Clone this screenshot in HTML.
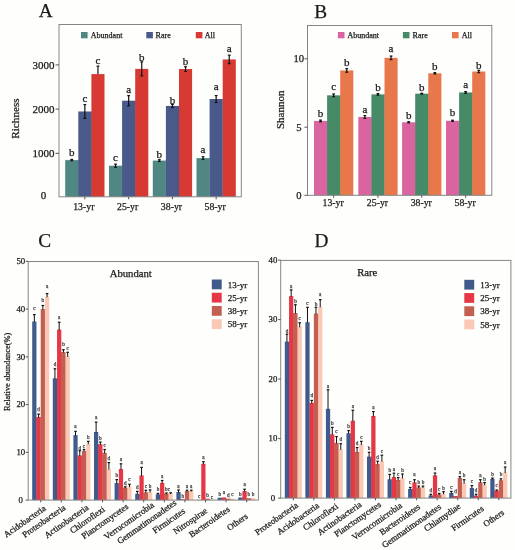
<!DOCTYPE html><html><head><meta charset="utf-8"><style>html,body{margin:0;padding:0;background:#fefefd;}svg{display:block;will-change:transform;}text{font-family:"Liberation Serif", serif;stroke-width:0.25px;}</style></head><body>
<svg width="515" height="550" viewBox="0 0 515 550">
<rect x="0" y="0" width="515" height="550" fill="#fefefd"/>
<rect x="65.2" y="160.11" width="13.1" height="36.69" fill="#508782"/>
<rect x="78.2" y="160.11" width="0.8" height="36.69" fill="#508782"/>
<rect x="78.3" y="111.49" width="13.1" height="85.31" fill="#48598a"/>
<rect x="91.3" y="111.49" width="0.8" height="85.31" fill="#48598a"/>
<rect x="91.4" y="74.09" width="13.1" height="122.71" fill="#d63a33"/>
<rect x="109" y="165.72" width="13.1" height="31.08" fill="#508782"/>
<rect x="122" y="165.72" width="0.8" height="31.08" fill="#508782"/>
<rect x="122.1" y="100.7" width="13.1" height="96.1" fill="#48598a"/>
<rect x="135.1" y="100.7" width="0.8" height="96.1" fill="#48598a"/>
<rect x="135.2" y="68.88" width="13.1" height="127.92" fill="#d63a33"/>
<rect x="152.8" y="160.59" width="13.1" height="36.21" fill="#508782"/>
<rect x="165.8" y="160.59" width="0.8" height="36.21" fill="#508782"/>
<rect x="165.9" y="105.92" width="13.1" height="90.88" fill="#48598a"/>
<rect x="178.9" y="105.92" width="0.8" height="90.88" fill="#48598a"/>
<rect x="179" y="69.01" width="13.1" height="127.79" fill="#d63a33"/>
<rect x="196.5" y="158.12" width="13.1" height="38.68" fill="#508782"/>
<rect x="209.5" y="158.12" width="0.8" height="38.68" fill="#508782"/>
<rect x="209.6" y="99.02" width="13.1" height="97.78" fill="#48598a"/>
<rect x="222.6" y="99.02" width="0.8" height="97.78" fill="#48598a"/>
<rect x="222.7" y="59.42" width="13.1" height="137.38" fill="#d63a33"/>
<line x1="71.75" y1="159.44" x2="71.75" y2="160.77" stroke="#111" stroke-width="1.2"/>
<line x1="70.35" y1="160.77" x2="73.15" y2="160.77" stroke="#111" stroke-width="1.2"/>
<line x1="70.35" y1="159.44" x2="73.15" y2="159.44" stroke="#111" stroke-width="1.2"/>
<text x="71.75" y="156.4" font-size="11" text-anchor="middle" fill="#1a1a1a" stroke="#1a1a1a">b</text>
<line x1="84.85" y1="104.64" x2="84.85" y2="118.34" stroke="#111" stroke-width="1.2"/>
<line x1="83.45" y1="118.34" x2="86.25" y2="118.34" stroke="#111" stroke-width="1.2"/>
<line x1="83.45" y1="104.64" x2="86.25" y2="104.64" stroke="#111" stroke-width="1.2"/>
<text x="84.85" y="102.2" font-size="11" text-anchor="middle" fill="#1a1a1a" stroke="#1a1a1a">c</text>
<line x1="97.95" y1="66.14" x2="97.95" y2="74.09" stroke="#111" stroke-width="1.2"/>
<line x1="96.55" y1="66.14" x2="99.35" y2="66.14" stroke="#111" stroke-width="1.2"/>
<text x="97.95" y="63.8" font-size="11" text-anchor="middle" fill="#1a1a1a" stroke="#1a1a1a">c</text>
<line x1="115.55" y1="164.17" x2="115.55" y2="167.27" stroke="#111" stroke-width="1.2"/>
<line x1="114.15" y1="167.27" x2="116.95" y2="167.27" stroke="#111" stroke-width="1.2"/>
<line x1="114.15" y1="164.17" x2="116.95" y2="164.17" stroke="#111" stroke-width="1.2"/>
<text x="115.55" y="160.9" font-size="11" text-anchor="middle" fill="#1a1a1a" stroke="#1a1a1a">c</text>
<line x1="128.65" y1="95.62" x2="128.65" y2="105.78" stroke="#111" stroke-width="1.2"/>
<line x1="127.25" y1="105.78" x2="130.05" y2="105.78" stroke="#111" stroke-width="1.2"/>
<line x1="127.25" y1="95.62" x2="130.05" y2="95.62" stroke="#111" stroke-width="1.2"/>
<text x="128.65" y="93" font-size="11" text-anchor="middle" fill="#1a1a1a" stroke="#1a1a1a">a</text>
<line x1="141.75" y1="61.89" x2="141.75" y2="75.86" stroke="#111" stroke-width="1.2"/>
<line x1="140.35" y1="75.86" x2="143.15" y2="75.86" stroke="#111" stroke-width="1.2"/>
<line x1="140.35" y1="61.89" x2="143.15" y2="61.89" stroke="#111" stroke-width="1.2"/>
<text x="141.75" y="60.6" font-size="11" text-anchor="middle" fill="#1a1a1a" stroke="#1a1a1a">b</text>
<line x1="159.35" y1="159.71" x2="159.35" y2="161.48" stroke="#111" stroke-width="1.2"/>
<line x1="157.95" y1="161.48" x2="160.75" y2="161.48" stroke="#111" stroke-width="1.2"/>
<line x1="157.95" y1="159.71" x2="160.75" y2="159.71" stroke="#111" stroke-width="1.2"/>
<text x="159.35" y="157.6" font-size="11" text-anchor="middle" fill="#1a1a1a" stroke="#1a1a1a">b</text>
<line x1="172.45" y1="104.37" x2="172.45" y2="107.46" stroke="#111" stroke-width="1.2"/>
<line x1="171.05" y1="107.46" x2="173.85" y2="107.46" stroke="#111" stroke-width="1.2"/>
<line x1="171.05" y1="104.37" x2="173.85" y2="104.37" stroke="#111" stroke-width="1.2"/>
<text x="172.45" y="103.6" font-size="11" text-anchor="middle" fill="#1a1a1a" stroke="#1a1a1a">b</text>
<line x1="185.55" y1="66.71" x2="185.55" y2="71.31" stroke="#111" stroke-width="1.2"/>
<line x1="184.15" y1="71.31" x2="186.95" y2="71.31" stroke="#111" stroke-width="1.2"/>
<line x1="184.15" y1="66.71" x2="186.95" y2="66.71" stroke="#111" stroke-width="1.2"/>
<text x="185.55" y="64.8" font-size="11" text-anchor="middle" fill="#1a1a1a" stroke="#1a1a1a">b</text>
<line x1="203.05" y1="156.79" x2="203.05" y2="159.44" stroke="#111" stroke-width="1.2"/>
<line x1="201.65" y1="159.44" x2="204.45" y2="159.44" stroke="#111" stroke-width="1.2"/>
<line x1="201.65" y1="156.79" x2="204.45" y2="156.79" stroke="#111" stroke-width="1.2"/>
<text x="203.05" y="153.1" font-size="11" text-anchor="middle" fill="#1a1a1a" stroke="#1a1a1a">a</text>
<line x1="216.15" y1="95.57" x2="216.15" y2="102.47" stroke="#111" stroke-width="1.2"/>
<line x1="214.75" y1="102.47" x2="217.55" y2="102.47" stroke="#111" stroke-width="1.2"/>
<line x1="214.75" y1="95.57" x2="217.55" y2="95.57" stroke="#111" stroke-width="1.2"/>
<text x="216.15" y="90.4" font-size="11" text-anchor="middle" fill="#1a1a1a" stroke="#1a1a1a">a</text>
<line x1="229.25" y1="55.18" x2="229.25" y2="63.66" stroke="#111" stroke-width="1.2"/>
<line x1="227.85" y1="63.66" x2="230.65" y2="63.66" stroke="#111" stroke-width="1.2"/>
<line x1="227.85" y1="55.18" x2="230.65" y2="55.18" stroke="#111" stroke-width="1.2"/>
<text x="229.25" y="52" font-size="11" text-anchor="middle" fill="#1a1a1a" stroke="#1a1a1a">a</text>
<rect x="59" y="24.5" width="182.3" height="172.3" fill="none" stroke="#858585" stroke-width="1"/>
<text x="43.6" y="198.6" font-size="11" text-anchor="middle" fill="#1a1a1a" stroke="#1a1a1a">0</text>
<line x1="55.6" y1="153.3" x2="59" y2="153.3" stroke="#555555" stroke-width="1"/>
<text x="43.6" y="157.1" font-size="11" text-anchor="middle" fill="#1a1a1a" stroke="#1a1a1a">1000</text>
<line x1="55.6" y1="109.1" x2="59" y2="109.1" stroke="#555555" stroke-width="1"/>
<text x="43.6" y="112.9" font-size="11" text-anchor="middle" fill="#1a1a1a" stroke="#1a1a1a">2000</text>
<line x1="55.6" y1="64.9" x2="59" y2="64.9" stroke="#555555" stroke-width="1"/>
<text x="43.6" y="68.7" font-size="11" text-anchor="middle" fill="#1a1a1a" stroke="#1a1a1a">3000</text>
<line x1="84.85" y1="196.8" x2="84.85" y2="199.3" stroke="#555555" stroke-width="1"/>
<text x="83.85" y="210.2" font-size="9.8" text-anchor="middle" fill="#1a1a1a" stroke="#1a1a1a">13-yr</text>
<line x1="128.65" y1="196.8" x2="128.65" y2="199.3" stroke="#555555" stroke-width="1"/>
<text x="127.65" y="210.2" font-size="9.8" text-anchor="middle" fill="#1a1a1a" stroke="#1a1a1a">25-yr</text>
<line x1="172.45" y1="196.8" x2="172.45" y2="199.3" stroke="#555555" stroke-width="1"/>
<text x="171.45" y="210.2" font-size="9.8" text-anchor="middle" fill="#1a1a1a" stroke="#1a1a1a">38-yr</text>
<line x1="216.15" y1="196.8" x2="216.15" y2="199.3" stroke="#555555" stroke-width="1"/>
<text x="215.15" y="210.2" font-size="9.8" text-anchor="middle" fill="#1a1a1a" stroke="#1a1a1a">58-yr</text>
<rect x="81" y="32" width="6.6" height="6.3" fill="#508782"/>
<text x="90.8" y="38" font-size="8" text-anchor="start" fill="#1a1a1a" stroke="#1a1a1a">Abundant</text>
<rect x="146.3" y="32" width="6.6" height="6.3" fill="#48598a"/>
<text x="155.6" y="38" font-size="8" text-anchor="start" fill="#1a1a1a" stroke="#1a1a1a">Rare</text>
<rect x="195.8" y="32" width="6.6" height="6.3" fill="#d63a33"/>
<text x="204.8" y="38" font-size="8" text-anchor="start" fill="#1a1a1a" stroke="#1a1a1a">All</text>
<text x="0" y="0" font-size="11.2" text-anchor="middle" fill="#1a1a1a" stroke="#1a1a1a" transform="translate(19.3,118.5) rotate(-90)">Richness</text>
<text x="45.6" y="17.2" font-size="19.3" text-anchor="middle" fill="#1a1a1a" stroke="#1a1a1a">A</text>
<rect x="314" y="120.91" width="13.1" height="74.39" fill="#da64a0"/>
<rect x="327" y="120.91" width="0.8" height="74.39" fill="#da64a0"/>
<rect x="327.1" y="95.33" width="13.1" height="99.97" fill="#468a68"/>
<rect x="340.1" y="95.33" width="0.8" height="99.97" fill="#468a68"/>
<rect x="340.2" y="70.43" width="13.1" height="124.87" fill="#e8784b"/>
<rect x="358.3" y="116.94" width="13.1" height="78.36" fill="#da64a0"/>
<rect x="371.3" y="116.94" width="0.8" height="78.36" fill="#da64a0"/>
<rect x="371.4" y="94.37" width="13.1" height="100.93" fill="#468a68"/>
<rect x="384.4" y="94.37" width="0.8" height="100.93" fill="#468a68"/>
<rect x="384.5" y="57.84" width="13.1" height="137.46" fill="#e8784b"/>
<rect x="402.1" y="122.28" width="13.1" height="73.02" fill="#da64a0"/>
<rect x="415.1" y="122.28" width="0.8" height="73.02" fill="#da64a0"/>
<rect x="415.2" y="93.68" width="13.1" height="101.62" fill="#468a68"/>
<rect x="428.2" y="93.68" width="0.8" height="101.62" fill="#468a68"/>
<rect x="428.3" y="73.3" width="13.1" height="122" fill="#e8784b"/>
<rect x="446" y="120.77" width="13.1" height="74.53" fill="#da64a0"/>
<rect x="459" y="120.77" width="0.8" height="74.53" fill="#da64a0"/>
<rect x="459.1" y="92.45" width="13.1" height="102.85" fill="#468a68"/>
<rect x="472.1" y="92.45" width="0.8" height="102.85" fill="#468a68"/>
<rect x="472.2" y="71.52" width="13.1" height="123.78" fill="#e8784b"/>
<line x1="320.55" y1="120.09" x2="320.55" y2="121.73" stroke="#111" stroke-width="1.2"/>
<line x1="319.15" y1="121.73" x2="321.95" y2="121.73" stroke="#111" stroke-width="1.2"/>
<line x1="319.15" y1="120.09" x2="321.95" y2="120.09" stroke="#111" stroke-width="1.2"/>
<text x="320.55" y="117.4" font-size="11" text-anchor="middle" fill="#1a1a1a" stroke="#1a1a1a">b</text>
<line x1="333.65" y1="93.96" x2="333.65" y2="96.69" stroke="#111" stroke-width="1.2"/>
<line x1="332.25" y1="96.69" x2="335.05" y2="96.69" stroke="#111" stroke-width="1.2"/>
<line x1="332.25" y1="93.96" x2="335.05" y2="93.96" stroke="#111" stroke-width="1.2"/>
<text x="333.65" y="90" font-size="11" text-anchor="middle" fill="#1a1a1a" stroke="#1a1a1a">c</text>
<line x1="346.75" y1="68.65" x2="346.75" y2="72.21" stroke="#111" stroke-width="1.2"/>
<line x1="345.35" y1="72.21" x2="348.15" y2="72.21" stroke="#111" stroke-width="1.2"/>
<line x1="345.35" y1="68.65" x2="348.15" y2="68.65" stroke="#111" stroke-width="1.2"/>
<text x="346.75" y="65.9" font-size="11" text-anchor="middle" fill="#1a1a1a" stroke="#1a1a1a">b</text>
<line x1="364.85" y1="115.57" x2="364.85" y2="118.31" stroke="#111" stroke-width="1.2"/>
<line x1="363.45" y1="118.31" x2="366.25" y2="118.31" stroke="#111" stroke-width="1.2"/>
<line x1="363.45" y1="115.57" x2="366.25" y2="115.57" stroke="#111" stroke-width="1.2"/>
<text x="364.85" y="112.7" font-size="11" text-anchor="middle" fill="#1a1a1a" stroke="#1a1a1a">a</text>
<line x1="377.95" y1="93.55" x2="377.95" y2="95.19" stroke="#111" stroke-width="1.2"/>
<line x1="376.55" y1="95.19" x2="379.35" y2="95.19" stroke="#111" stroke-width="1.2"/>
<line x1="376.55" y1="93.55" x2="379.35" y2="93.55" stroke="#111" stroke-width="1.2"/>
<text x="377.95" y="90.8" font-size="11" text-anchor="middle" fill="#1a1a1a" stroke="#1a1a1a">b</text>
<line x1="391.05" y1="56.06" x2="391.05" y2="59.62" stroke="#111" stroke-width="1.2"/>
<line x1="389.65" y1="59.62" x2="392.45" y2="59.62" stroke="#111" stroke-width="1.2"/>
<line x1="389.65" y1="56.06" x2="392.45" y2="56.06" stroke="#111" stroke-width="1.2"/>
<text x="391.05" y="51.7" font-size="11" text-anchor="middle" fill="#1a1a1a" stroke="#1a1a1a">a</text>
<line x1="408.65" y1="121.73" x2="408.65" y2="122.82" stroke="#111" stroke-width="1.2"/>
<line x1="407.25" y1="122.82" x2="410.05" y2="122.82" stroke="#111" stroke-width="1.2"/>
<line x1="407.25" y1="121.73" x2="410.05" y2="121.73" stroke="#111" stroke-width="1.2"/>
<text x="408.65" y="119.4" font-size="11" text-anchor="middle" fill="#1a1a1a" stroke="#1a1a1a">b</text>
<line x1="421.75" y1="93.27" x2="421.75" y2="94.09" stroke="#111" stroke-width="1.2"/>
<line x1="420.35" y1="94.09" x2="423.15" y2="94.09" stroke="#111" stroke-width="1.2"/>
<line x1="420.35" y1="93.27" x2="423.15" y2="93.27" stroke="#111" stroke-width="1.2"/>
<text x="421.75" y="90.5" font-size="11" text-anchor="middle" fill="#1a1a1a" stroke="#1a1a1a">b</text>
<line x1="434.85" y1="72.62" x2="434.85" y2="73.98" stroke="#111" stroke-width="1.2"/>
<line x1="433.45" y1="73.98" x2="436.25" y2="73.98" stroke="#111" stroke-width="1.2"/>
<line x1="433.45" y1="72.62" x2="436.25" y2="72.62" stroke="#111" stroke-width="1.2"/>
<text x="434.85" y="70.1" font-size="11" text-anchor="middle" fill="#1a1a1a" stroke="#1a1a1a">b</text>
<line x1="452.55" y1="120.22" x2="452.55" y2="121.32" stroke="#111" stroke-width="1.2"/>
<line x1="451.15" y1="121.32" x2="453.95" y2="121.32" stroke="#111" stroke-width="1.2"/>
<line x1="451.15" y1="120.22" x2="453.95" y2="120.22" stroke="#111" stroke-width="1.2"/>
<text x="452.55" y="116" font-size="11" text-anchor="middle" fill="#1a1a1a" stroke="#1a1a1a">b</text>
<line x1="465.65" y1="91.63" x2="465.65" y2="93.27" stroke="#111" stroke-width="1.2"/>
<line x1="464.25" y1="93.27" x2="467.05" y2="93.27" stroke="#111" stroke-width="1.2"/>
<line x1="464.25" y1="91.63" x2="467.05" y2="91.63" stroke="#111" stroke-width="1.2"/>
<text x="465.65" y="88.3" font-size="11" text-anchor="middle" fill="#1a1a1a" stroke="#1a1a1a">a</text>
<line x1="478.75" y1="70.43" x2="478.75" y2="72.62" stroke="#111" stroke-width="1.2"/>
<line x1="477.35" y1="72.62" x2="480.15" y2="72.62" stroke="#111" stroke-width="1.2"/>
<line x1="477.35" y1="70.43" x2="480.15" y2="70.43" stroke="#111" stroke-width="1.2"/>
<text x="478.75" y="68.7" font-size="11" text-anchor="middle" fill="#1a1a1a" stroke="#1a1a1a">b</text>
<rect x="307.5" y="25.5" width="184.3" height="169.8" fill="none" stroke="#858585" stroke-width="1"/>
<line x1="304.5" y1="195.3" x2="307.5" y2="195.3" stroke="#555555" stroke-width="1"/>
<text x="298.8" y="198.6" font-size="10.6" text-anchor="middle" fill="#1a1a1a" stroke="#1a1a1a">0</text>
<line x1="304.5" y1="127.2" x2="307.5" y2="127.2" stroke="#555555" stroke-width="1"/>
<text x="298.8" y="130.5" font-size="10.6" text-anchor="middle" fill="#1a1a1a" stroke="#1a1a1a">5</text>
<line x1="304.5" y1="58.8" x2="307.5" y2="58.8" stroke="#555555" stroke-width="1"/>
<text x="298.8" y="62.1" font-size="10.6" text-anchor="middle" fill="#1a1a1a" stroke="#1a1a1a">10</text>
<line x1="333.65" y1="195.3" x2="333.65" y2="197.8" stroke="#555555" stroke-width="1"/>
<text x="333.15" y="205.6" font-size="9.8" text-anchor="middle" fill="#1a1a1a" stroke="#1a1a1a">13-yr</text>
<line x1="377.95" y1="195.3" x2="377.95" y2="197.8" stroke="#555555" stroke-width="1"/>
<text x="377.45" y="205.6" font-size="9.8" text-anchor="middle" fill="#1a1a1a" stroke="#1a1a1a">25-yr</text>
<line x1="421.75" y1="195.3" x2="421.75" y2="197.8" stroke="#555555" stroke-width="1"/>
<text x="421.25" y="205.6" font-size="9.8" text-anchor="middle" fill="#1a1a1a" stroke="#1a1a1a">38-yr</text>
<line x1="465.65" y1="195.3" x2="465.65" y2="197.8" stroke="#555555" stroke-width="1"/>
<text x="465.15" y="205.6" font-size="9.8" text-anchor="middle" fill="#1a1a1a" stroke="#1a1a1a">58-yr</text>
<rect x="337.9" y="32" width="6.6" height="6.3" fill="#da64a0"/>
<text x="347.5" y="38" font-size="8" text-anchor="start" fill="#1a1a1a" stroke="#1a1a1a">Abundant</text>
<rect x="402.9" y="32" width="6.6" height="6.3" fill="#468a68"/>
<text x="412.6" y="38" font-size="8" text-anchor="start" fill="#1a1a1a" stroke="#1a1a1a">Rare</text>
<rect x="452" y="32" width="6.6" height="6.3" fill="#e8784b"/>
<text x="461.7" y="38" font-size="8" text-anchor="start" fill="#1a1a1a" stroke="#1a1a1a">All</text>
<text x="0" y="0" font-size="11" text-anchor="middle" fill="#1a1a1a" stroke="#1a1a1a" transform="translate(283.9,109.8) rotate(-90)">Shannon</text>
<text x="320.8" y="17.5" font-size="19.3" text-anchor="middle" fill="#1a1a1a" stroke="#1a1a1a">B</text>
<rect x="32.2" y="321.51" width="4.25" height="178.59" fill="#415a8c"/>
<rect x="36.35" y="417.02" width="0.8" height="83.08" fill="#415a8c"/>
<rect x="36.45" y="417.02" width="4.25" height="83.08" fill="#e63746"/>
<rect x="40.6" y="417.02" width="0.8" height="83.08" fill="#e63746"/>
<rect x="40.7" y="309.1" width="4.25" height="191" fill="#c35f50"/>
<rect x="44.85" y="309.1" width="0.8" height="191" fill="#c35f50"/>
<rect x="44.95" y="296.69" width="4.25" height="203.42" fill="#fac8b4"/>
<rect x="52.8" y="378.34" width="4.25" height="121.76" fill="#415a8c"/>
<rect x="56.95" y="378.34" width="0.8" height="121.76" fill="#415a8c"/>
<rect x="57.05" y="329.63" width="4.25" height="170.47" fill="#e63746"/>
<rect x="61.2" y="352.08" width="0.8" height="148.02" fill="#e63746"/>
<rect x="61.3" y="352.08" width="4.25" height="148.02" fill="#c35f50"/>
<rect x="65.45" y="356.37" width="0.8" height="143.73" fill="#c35f50"/>
<rect x="65.55" y="356.37" width="4.25" height="143.73" fill="#fac8b4"/>
<rect x="73.4" y="435.16" width="4.25" height="64.94" fill="#415a8c"/>
<rect x="77.55" y="455.45" width="0.8" height="44.65" fill="#415a8c"/>
<rect x="77.65" y="455.45" width="4.25" height="44.65" fill="#e63746"/>
<rect x="81.8" y="455.45" width="0.8" height="44.65" fill="#e63746"/>
<rect x="81.9" y="450.92" width="4.25" height="49.18" fill="#c35f50"/>
<rect x="86.05" y="450.92" width="0.8" height="49.18" fill="#c35f50"/>
<rect x="86.15" y="443.75" width="4.25" height="56.35" fill="#fac8b4"/>
<rect x="94" y="432.01" width="4.25" height="68.09" fill="#415a8c"/>
<rect x="98.15" y="444.23" width="0.8" height="55.87" fill="#415a8c"/>
<rect x="98.25" y="444.23" width="4.25" height="55.87" fill="#e63746"/>
<rect x="102.4" y="452.83" width="0.8" height="47.27" fill="#e63746"/>
<rect x="102.5" y="452.83" width="4.25" height="47.27" fill="#c35f50"/>
<rect x="106.65" y="469.06" width="0.8" height="31.04" fill="#c35f50"/>
<rect x="106.75" y="469.06" width="4.25" height="31.04" fill="#fac8b4"/>
<rect x="114.6" y="483.1" width="4.25" height="17" fill="#415a8c"/>
<rect x="118.75" y="483.1" width="0.8" height="17" fill="#415a8c"/>
<rect x="118.85" y="469.06" width="4.25" height="31.04" fill="#e63746"/>
<rect x="123" y="487.78" width="0.8" height="12.32" fill="#e63746"/>
<rect x="123.1" y="487.78" width="4.25" height="12.32" fill="#c35f50"/>
<rect x="127.25" y="487.78" width="0.8" height="12.32" fill="#c35f50"/>
<rect x="127.35" y="486.59" width="4.25" height="13.51" fill="#fac8b4"/>
<rect x="135.2" y="493.8" width="4.25" height="6.3" fill="#415a8c"/>
<rect x="139.35" y="493.8" width="0.8" height="6.3" fill="#415a8c"/>
<rect x="139.45" y="475.51" width="4.25" height="24.59" fill="#e63746"/>
<rect x="143.6" y="492.41" width="0.8" height="7.69" fill="#e63746"/>
<rect x="143.7" y="492.41" width="4.25" height="7.69" fill="#c35f50"/>
<rect x="147.85" y="492.41" width="0.8" height="7.69" fill="#c35f50"/>
<rect x="147.95" y="491.89" width="4.25" height="8.21" fill="#fac8b4"/>
<rect x="155.8" y="494.32" width="4.25" height="5.78" fill="#415a8c"/>
<rect x="159.95" y="494.32" width="0.8" height="5.78" fill="#415a8c"/>
<rect x="160.05" y="482.91" width="4.25" height="17.19" fill="#e63746"/>
<rect x="164.2" y="493.7" width="0.8" height="6.4" fill="#e63746"/>
<rect x="164.3" y="493.7" width="4.25" height="6.4" fill="#c35f50"/>
<rect x="168.45" y="493.7" width="0.8" height="6.4" fill="#c35f50"/>
<rect x="168.55" y="493.51" width="4.25" height="6.59" fill="#fac8b4"/>
<rect x="176.4" y="491.98" width="4.25" height="8.12" fill="#415a8c"/>
<rect x="180.55" y="499.15" width="0.8" height="0.95" fill="#415a8c"/>
<rect x="180.65" y="499.15" width="4.25" height="0.95" fill="#e63746"/>
<rect x="184.8" y="499.15" width="0.8" height="0.95" fill="#e63746"/>
<rect x="184.9" y="491.03" width="4.25" height="9.07" fill="#c35f50"/>
<rect x="189.05" y="491.03" width="0.8" height="9.07" fill="#c35f50"/>
<rect x="189.15" y="491.03" width="4.25" height="9.07" fill="#fac8b4"/>
<rect x="197" y="499.86" width="4.25" height="0.24" fill="#415a8c"/>
<rect x="201.15" y="499.86" width="0.8" height="0.24" fill="#415a8c"/>
<rect x="201.25" y="463.81" width="4.25" height="36.29" fill="#e63746"/>
<rect x="205.4" y="498.67" width="0.8" height="1.43" fill="#e63746"/>
<rect x="205.5" y="498.67" width="4.25" height="1.43" fill="#c35f50"/>
<rect x="209.65" y="499.62" width="0.8" height="0.48" fill="#c35f50"/>
<rect x="209.75" y="499.62" width="4.25" height="0.48" fill="#fac8b4"/>
<rect x="217.6" y="497.71" width="4.25" height="2.39" fill="#415a8c"/>
<rect x="221.75" y="497.71" width="0.8" height="2.39" fill="#415a8c"/>
<rect x="221.85" y="497.43" width="4.25" height="2.67" fill="#e63746"/>
<rect x="226" y="498.67" width="0.8" height="1.43" fill="#e63746"/>
<rect x="226.1" y="498.67" width="4.25" height="1.43" fill="#c35f50"/>
<rect x="230.25" y="498.67" width="0.8" height="1.43" fill="#c35f50"/>
<rect x="230.35" y="498.67" width="4.25" height="1.43" fill="#fac8b4"/>
<rect x="238.2" y="497.52" width="4.25" height="2.58" fill="#415a8c"/>
<rect x="242.35" y="497.52" width="0.8" height="2.58" fill="#415a8c"/>
<rect x="242.45" y="491.03" width="4.25" height="9.07" fill="#e63746"/>
<rect x="246.6" y="498.19" width="0.8" height="1.91" fill="#e63746"/>
<rect x="246.7" y="498.19" width="4.25" height="1.91" fill="#c35f50"/>
<rect x="250.85" y="498.19" width="0.8" height="1.91" fill="#c35f50"/>
<rect x="250.95" y="498.19" width="4.25" height="1.91" fill="#fac8b4"/>
<line x1="34.33" y1="314.59" x2="34.33" y2="322.01" stroke="#111" stroke-width="1"/>
<line x1="33.03" y1="314.59" x2="35.62" y2="314.59" stroke="#111" stroke-width="1.2"/>
<text x="34.33" y="310" font-size="5.2" text-anchor="middle" fill="#444" stroke="#444">c</text>
<line x1="38.58" y1="414.15" x2="38.58" y2="417.52" stroke="#111" stroke-width="1"/>
<line x1="37.28" y1="414.15" x2="39.88" y2="414.15" stroke="#111" stroke-width="1.2"/>
<text x="38.58" y="410.8" font-size="5.2" text-anchor="middle" fill="#444" stroke="#444">d</text>
<line x1="42.83" y1="305.52" x2="42.83" y2="309.6" stroke="#111" stroke-width="1"/>
<line x1="41.53" y1="305.52" x2="44.12" y2="305.52" stroke="#111" stroke-width="1.2"/>
<text x="42.83" y="301.8" font-size="5.2" text-anchor="middle" fill="#444" stroke="#444">b</text>
<line x1="47.08" y1="293.58" x2="47.08" y2="297.19" stroke="#111" stroke-width="1"/>
<line x1="45.78" y1="293.58" x2="48.38" y2="293.58" stroke="#111" stroke-width="1.2"/>
<text x="47.08" y="288.2" font-size="5.2" text-anchor="middle" fill="#444" stroke="#444">a</text>
<line x1="54.93" y1="368.79" x2="54.93" y2="378.84" stroke="#111" stroke-width="1"/>
<line x1="53.63" y1="368.79" x2="56.23" y2="368.79" stroke="#111" stroke-width="1.2"/>
<text x="54.93" y="365.9" font-size="5.2" text-anchor="middle" fill="#444" stroke="#444">d</text>
<line x1="59.18" y1="322.23" x2="59.18" y2="330.13" stroke="#111" stroke-width="1"/>
<line x1="57.88" y1="322.23" x2="60.48" y2="322.23" stroke="#111" stroke-width="1.2"/>
<text x="59.18" y="319.4" font-size="5.2" text-anchor="middle" fill="#444" stroke="#444">a</text>
<line x1="63.43" y1="349.69" x2="63.43" y2="352.58" stroke="#111" stroke-width="1"/>
<line x1="62.13" y1="349.69" x2="64.73" y2="349.69" stroke="#111" stroke-width="1.2"/>
<text x="63.43" y="345.8" font-size="5.2" text-anchor="middle" fill="#444" stroke="#444">b</text>
<line x1="67.68" y1="352.31" x2="67.68" y2="356.87" stroke="#111" stroke-width="1"/>
<line x1="66.38" y1="352.31" x2="68.98" y2="352.31" stroke="#111" stroke-width="1.2"/>
<text x="67.68" y="350.1" font-size="5.2" text-anchor="middle" fill="#444" stroke="#444">c</text>
<line x1="75.53" y1="431.34" x2="75.53" y2="435.66" stroke="#111" stroke-width="1"/>
<line x1="74.23" y1="431.34" x2="76.83" y2="431.34" stroke="#111" stroke-width="1.2"/>
<text x="75.53" y="428" font-size="5.2" text-anchor="middle" fill="#444" stroke="#444">a</text>
<line x1="79.78" y1="450.68" x2="79.78" y2="455.95" stroke="#111" stroke-width="1"/>
<line x1="78.48" y1="450.68" x2="81.08" y2="450.68" stroke="#111" stroke-width="1.2"/>
<text x="79.78" y="449.6" font-size="5.2" text-anchor="middle" fill="#444" stroke="#444">d</text>
<line x1="84.03" y1="449.49" x2="84.03" y2="451.42" stroke="#111" stroke-width="1"/>
<line x1="82.73" y1="449.49" x2="85.33" y2="449.49" stroke="#111" stroke-width="1.2"/>
<text x="84.03" y="447.8" font-size="5.2" text-anchor="middle" fill="#444" stroke="#444">c</text>
<line x1="88.28" y1="441.37" x2="88.28" y2="444.25" stroke="#111" stroke-width="1"/>
<line x1="86.98" y1="441.37" x2="89.58" y2="441.37" stroke="#111" stroke-width="1.2"/>
<text x="88.28" y="438.8" font-size="5.2" text-anchor="middle" fill="#444" stroke="#444">b</text>
<line x1="96.12" y1="422.12" x2="96.12" y2="432.51" stroke="#111" stroke-width="1"/>
<line x1="94.83" y1="422.12" x2="97.42" y2="422.12" stroke="#111" stroke-width="1.2"/>
<text x="96.12" y="419.3" font-size="5.2" text-anchor="middle" fill="#444" stroke="#444">a</text>
<line x1="100.38" y1="442.08" x2="100.38" y2="444.73" stroke="#111" stroke-width="1"/>
<line x1="99.08" y1="442.08" x2="101.67" y2="442.08" stroke="#111" stroke-width="1.2"/>
<text x="100.38" y="439.7" font-size="5.2" text-anchor="middle" fill="#444" stroke="#444">b</text>
<line x1="104.62" y1="449.49" x2="104.62" y2="453.33" stroke="#111" stroke-width="1"/>
<line x1="103.33" y1="449.49" x2="105.92" y2="449.49" stroke="#111" stroke-width="1.2"/>
<text x="104.62" y="447" font-size="5.2" text-anchor="middle" fill="#444" stroke="#444">c</text>
<line x1="108.88" y1="462.62" x2="108.88" y2="469.56" stroke="#111" stroke-width="1"/>
<line x1="107.58" y1="462.62" x2="110.17" y2="462.62" stroke="#111" stroke-width="1.2"/>
<text x="108.88" y="460.4" font-size="5.2" text-anchor="middle" fill="#444" stroke="#444">d</text>
<line x1="116.73" y1="479.62" x2="116.73" y2="483.6" stroke="#111" stroke-width="1"/>
<line x1="115.43" y1="479.62" x2="118.03" y2="479.62" stroke="#111" stroke-width="1.2"/>
<text x="116.73" y="476.8" font-size="5.2" text-anchor="middle" fill="#444" stroke="#444">b</text>
<line x1="120.98" y1="463.81" x2="120.98" y2="469.56" stroke="#111" stroke-width="1"/>
<line x1="119.68" y1="463.81" x2="122.28" y2="463.81" stroke="#111" stroke-width="1.2"/>
<text x="120.98" y="461.2" font-size="5.2" text-anchor="middle" fill="#444" stroke="#444">a</text>
<line x1="125.23" y1="486.83" x2="125.23" y2="488.28" stroke="#111" stroke-width="1"/>
<line x1="123.93" y1="486.83" x2="126.53" y2="486.83" stroke="#111" stroke-width="1.2"/>
<text x="125.23" y="484.9" font-size="5.2" text-anchor="middle" fill="#444" stroke="#444">d</text>
<line x1="129.48" y1="484.29" x2="129.48" y2="487.09" stroke="#111" stroke-width="1"/>
<line x1="128.18" y1="484.29" x2="130.78" y2="484.29" stroke="#111" stroke-width="1.2"/>
<text x="129.48" y="481.4" font-size="5.2" text-anchor="middle" fill="#444" stroke="#444">c</text>
<line x1="137.32" y1="491.41" x2="137.32" y2="494.3" stroke="#111" stroke-width="1"/>
<line x1="136.02" y1="491.41" x2="138.62" y2="491.41" stroke="#111" stroke-width="1.2"/>
<text x="137.32" y="489.4" font-size="5.2" text-anchor="middle" fill="#444" stroke="#444">d</text>
<line x1="141.57" y1="467.39" x2="141.57" y2="476.01" stroke="#111" stroke-width="1"/>
<line x1="140.27" y1="467.39" x2="142.88" y2="467.39" stroke="#111" stroke-width="1.2"/>
<text x="141.57" y="463.6" font-size="5.2" text-anchor="middle" fill="#444" stroke="#444">a</text>
<line x1="145.82" y1="490.31" x2="145.82" y2="492.91" stroke="#111" stroke-width="1"/>
<line x1="144.52" y1="490.31" x2="147.12" y2="490.31" stroke="#111" stroke-width="1.2"/>
<text x="145.82" y="488.4" font-size="5.2" text-anchor="middle" fill="#444" stroke="#444">c</text>
<line x1="150.07" y1="489.88" x2="150.07" y2="492.39" stroke="#111" stroke-width="1"/>
<line x1="148.77" y1="489.88" x2="151.38" y2="489.88" stroke="#111" stroke-width="1.2"/>
<text x="150.07" y="488.2" font-size="5.2" text-anchor="middle" fill="#444" stroke="#444">b</text>
<line x1="157.93" y1="493.42" x2="157.93" y2="494.82" stroke="#111" stroke-width="1"/>
<line x1="156.62" y1="493.42" x2="159.23" y2="493.42" stroke="#111" stroke-width="1.2"/>
<text x="157.93" y="491.4" font-size="5.2" text-anchor="middle" fill="#444" stroke="#444">b</text>
<line x1="162.18" y1="480.52" x2="162.18" y2="483.41" stroke="#111" stroke-width="1"/>
<line x1="160.88" y1="480.52" x2="163.48" y2="480.52" stroke="#111" stroke-width="1.2"/>
<text x="162.18" y="477.8" font-size="5.2" text-anchor="middle" fill="#444" stroke="#444">a</text>
<line x1="166.43" y1="492.99" x2="166.43" y2="494.2" stroke="#111" stroke-width="1"/>
<line x1="165.12" y1="492.99" x2="167.73" y2="492.99" stroke="#111" stroke-width="1.2"/>
<text x="167.53" y="491.4" font-size="5.2" text-anchor="middle" fill="#444" stroke="#444">bc</text>
<line x1="170.68" y1="492.79" x2="170.68" y2="494.01" stroke="#111" stroke-width="1"/>
<line x1="169.38" y1="492.79" x2="171.98" y2="492.79" stroke="#111" stroke-width="1.2"/>
<line x1="178.53" y1="489.98" x2="178.53" y2="492.48" stroke="#111" stroke-width="1"/>
<line x1="177.23" y1="489.98" x2="179.83" y2="489.98" stroke="#111" stroke-width="1.2"/>
<text x="178.53" y="487.6" font-size="5.2" text-anchor="middle" fill="#444" stroke="#444">a</text>
<text x="182.78" y="498.4" font-size="5.2" text-anchor="middle" fill="#444" stroke="#444">b</text>
<line x1="187.03" y1="490.22" x2="187.03" y2="491.53" stroke="#111" stroke-width="1"/>
<line x1="185.73" y1="490.22" x2="188.33" y2="490.22" stroke="#111" stroke-width="1.2"/>
<text x="187.03" y="487.6" font-size="5.2" text-anchor="middle" fill="#444" stroke="#444">a</text>
<line x1="191.28" y1="490.22" x2="191.28" y2="491.53" stroke="#111" stroke-width="1"/>
<line x1="189.98" y1="490.22" x2="192.58" y2="490.22" stroke="#111" stroke-width="1.2"/>
<text x="191.28" y="487.6" font-size="5.2" text-anchor="middle" fill="#444" stroke="#444">a</text>
<text x="199.12" y="497.8" font-size="5.2" text-anchor="middle" fill="#444" stroke="#444">c</text>
<line x1="203.38" y1="461.71" x2="203.38" y2="464.31" stroke="#111" stroke-width="1"/>
<line x1="202.07" y1="461.71" x2="204.68" y2="461.71" stroke="#111" stroke-width="1.2"/>
<text x="203.38" y="459.4" font-size="5.2" text-anchor="middle" fill="#444" stroke="#444">a</text>
<text x="207.62" y="496.8" font-size="5.2" text-anchor="middle" fill="#444" stroke="#444">b</text>
<text x="211.88" y="499.2" font-size="5.2" text-anchor="middle" fill="#444" stroke="#444">c</text>
<text x="219.73" y="495.7" font-size="5.2" text-anchor="middle" fill="#444" stroke="#444">b</text>
<text x="223.98" y="493.9" font-size="5.2" text-anchor="middle" fill="#444" stroke="#444">a</text>
<text x="228.23" y="496.5" font-size="5.2" text-anchor="middle" fill="#444" stroke="#444">d</text>
<text x="232.48" y="495.9" font-size="5.2" text-anchor="middle" fill="#444" stroke="#444">c</text>
<text x="240.32" y="496.3" font-size="5.2" text-anchor="middle" fill="#444" stroke="#444">b</text>
<line x1="244.57" y1="489.21" x2="244.57" y2="491.53" stroke="#111" stroke-width="1"/>
<line x1="243.27" y1="489.21" x2="245.88" y2="489.21" stroke="#111" stroke-width="1.2"/>
<text x="244.57" y="486.4" font-size="5.2" text-anchor="middle" fill="#444" stroke="#444">a</text>
<text x="248.82" y="496.3" font-size="5.2" text-anchor="middle" fill="#444" stroke="#444">b</text>
<text x="253.07" y="496.3" font-size="5.2" text-anchor="middle" fill="#444" stroke="#444">b</text>
<rect x="28.2" y="261.5" width="230.2" height="238.6" fill="none" stroke="#858585" stroke-width="1"/>
<line x1="25.7" y1="500.1" x2="28.2" y2="500.1" stroke="#555555" stroke-width="1"/>
<text x="20.8" y="502.8" font-size="8.8" text-anchor="middle" fill="#1a1a1a" stroke="#1a1a1a">0</text>
<line x1="25.7" y1="452.35" x2="28.2" y2="452.35" stroke="#555555" stroke-width="1"/>
<text x="20.8" y="455.05" font-size="8.8" text-anchor="middle" fill="#1a1a1a" stroke="#1a1a1a">10</text>
<line x1="25.7" y1="404.6" x2="28.2" y2="404.6" stroke="#555555" stroke-width="1"/>
<text x="20.8" y="407.3" font-size="8.8" text-anchor="middle" fill="#1a1a1a" stroke="#1a1a1a">20</text>
<line x1="25.7" y1="356.85" x2="28.2" y2="356.85" stroke="#555555" stroke-width="1"/>
<text x="20.8" y="359.55" font-size="8.8" text-anchor="middle" fill="#1a1a1a" stroke="#1a1a1a">30</text>
<line x1="25.7" y1="309.1" x2="28.2" y2="309.1" stroke="#555555" stroke-width="1"/>
<text x="20.8" y="311.8" font-size="8.8" text-anchor="middle" fill="#1a1a1a" stroke="#1a1a1a">40</text>
<line x1="25.7" y1="261.35" x2="28.2" y2="261.35" stroke="#555555" stroke-width="1"/>
<text x="20.8" y="264.05" font-size="8.8" text-anchor="middle" fill="#1a1a1a" stroke="#1a1a1a">50</text>
<line x1="40.7" y1="500.1" x2="40.7" y2="502.3" stroke="#555555" stroke-width="1"/>
<text x="0" y="0" font-size="8.75" text-anchor="start" fill="#1a1a1a" stroke="#1a1a1a" stroke-width="0.1" transform="translate(6.3,537.7) rotate(-35)">Acidobacteria</text>
<line x1="61.3" y1="500.1" x2="61.3" y2="502.3" stroke="#555555" stroke-width="1"/>
<text x="0" y="0" font-size="8.75" text-anchor="start" fill="#1a1a1a" stroke="#1a1a1a" stroke-width="0.1" transform="translate(24.7,537.9) rotate(-35)">Proteobacteria</text>
<line x1="81.9" y1="500.1" x2="81.9" y2="502.3" stroke="#555555" stroke-width="1"/>
<text x="0" y="0" font-size="8.75" text-anchor="start" fill="#1a1a1a" stroke="#1a1a1a" stroke-width="0.1" transform="translate(46.9,538.4) rotate(-35)">Actinobacteria</text>
<line x1="102.5" y1="500.1" x2="102.5" y2="502.3" stroke="#555555" stroke-width="1"/>
<text x="0" y="0" font-size="8.75" text-anchor="start" fill="#1a1a1a" stroke="#1a1a1a" stroke-width="0.1" transform="translate(72.5,533.8) rotate(-35)">Chloroflexi</text>
<line x1="123.1" y1="500.1" x2="123.1" y2="502.3" stroke="#555555" stroke-width="1"/>
<text x="0" y="0" font-size="8.75" text-anchor="start" fill="#1a1a1a" stroke="#1a1a1a" stroke-width="0.1" transform="translate(84.1,539.3) rotate(-35)">Planctomycetes</text>
<line x1="143.7" y1="500.1" x2="143.7" y2="502.3" stroke="#555555" stroke-width="1"/>
<text x="0" y="0" font-size="8.75" text-anchor="start" fill="#1a1a1a" stroke="#1a1a1a" stroke-width="0.1" transform="translate(106.6,539.9) rotate(-35)">Verrucomicrobia</text>
<line x1="164.3" y1="500.1" x2="164.3" y2="502.3" stroke="#555555" stroke-width="1"/>
<text x="0" y="0" font-size="8.75" text-anchor="start" fill="#1a1a1a" stroke="#1a1a1a" stroke-width="0.1" transform="translate(119.7,544.3) rotate(-35)">Gemmatimonadetes</text>
<line x1="184.9" y1="500.1" x2="184.9" y2="502.3" stroke="#555555" stroke-width="1"/>
<text x="0" y="0" font-size="8.75" text-anchor="start" fill="#1a1a1a" stroke="#1a1a1a" stroke-width="0.1" transform="translate(155.1,533.8) rotate(-35)">Firmicutes</text>
<line x1="205.5" y1="500.1" x2="205.5" y2="502.3" stroke="#555555" stroke-width="1"/>
<text x="0" y="0" font-size="8.75" text-anchor="start" fill="#1a1a1a" stroke="#1a1a1a" stroke-width="0.1" transform="translate(175.8,534.5) rotate(-35)">Nitrospirae</text>
<line x1="226.1" y1="500.1" x2="226.1" y2="502.3" stroke="#555555" stroke-width="1"/>
<text x="0" y="0" font-size="8.75" text-anchor="start" fill="#1a1a1a" stroke="#1a1a1a" stroke-width="0.1" transform="translate(191.5,537.8) rotate(-35)">Bacteroidetes</text>
<line x1="246.7" y1="500.1" x2="246.7" y2="502.3" stroke="#555555" stroke-width="1"/>
<text x="0" y="0" font-size="8.75" text-anchor="start" fill="#1a1a1a" stroke="#1a1a1a" stroke-width="0.1" transform="translate(229.4,530.9) rotate(-35)">Others</text>
<text x="109.7" y="276.6" font-size="10.7" text-anchor="start" fill="#1a1a1a" stroke="#1a1a1a">Abundant</text>
<rect x="211.8" y="279.5" width="9.9" height="9.8" fill="#415a8c"/>
<text x="227.8" y="287.6" font-size="9" text-anchor="start" fill="#1a1a1a" stroke="#1a1a1a">13-yr</text>
<rect x="211.8" y="292.75" width="9.9" height="9.8" fill="#e63746"/>
<text x="227.8" y="300.85" font-size="9" text-anchor="start" fill="#1a1a1a" stroke="#1a1a1a">25-yr</text>
<rect x="211.8" y="306" width="9.9" height="9.8" fill="#c35f50"/>
<text x="227.8" y="314.1" font-size="9" text-anchor="start" fill="#1a1a1a" stroke="#1a1a1a">38-yr</text>
<rect x="211.8" y="319.25" width="9.9" height="9.8" fill="#fac8b4"/>
<text x="227.8" y="327.35" font-size="9" text-anchor="start" fill="#1a1a1a" stroke="#1a1a1a">58-yr</text>
<text x="44.8" y="247" font-size="19.3" text-anchor="middle" fill="#1a1a1a" stroke="#1a1a1a">C</text>
<text x="0" y="0" font-size="8.4" text-anchor="middle" fill="#1a1a1a" stroke="#1a1a1a" transform="translate(9.6,371.9) rotate(-90)">Relative abundance(%)</text>
<rect x="284.8" y="341.62" width="4.25" height="156.49" fill="#415a8c"/>
<rect x="288.95" y="341.62" width="0.8" height="156.49" fill="#415a8c"/>
<rect x="289.05" y="296.1" width="4.25" height="202" fill="#e63746"/>
<rect x="293.2" y="313.06" width="0.8" height="185.05" fill="#e63746"/>
<rect x="293.3" y="313.06" width="4.25" height="185.05" fill="#c35f50"/>
<rect x="297.45" y="326.74" width="0.8" height="171.36" fill="#c35f50"/>
<rect x="297.55" y="326.74" width="4.25" height="171.36" fill="#fac8b4"/>
<rect x="305.35" y="322.22" width="4.25" height="175.88" fill="#415a8c"/>
<rect x="309.5" y="402.9" width="0.8" height="95.2" fill="#415a8c"/>
<rect x="309.6" y="402.9" width="4.25" height="95.2" fill="#e63746"/>
<rect x="313.75" y="402.9" width="0.8" height="95.2" fill="#e63746"/>
<rect x="313.85" y="313.65" width="4.25" height="184.45" fill="#c35f50"/>
<rect x="318" y="313.65" width="0.8" height="184.45" fill="#c35f50"/>
<rect x="318.1" y="306.81" width="4.25" height="191.29" fill="#fac8b4"/>
<rect x="325.9" y="408.85" width="4.25" height="89.25" fill="#415a8c"/>
<rect x="330.05" y="434.44" width="0.8" height="63.67" fill="#415a8c"/>
<rect x="330.15" y="434.44" width="4.25" height="63.67" fill="#e63746"/>
<rect x="334.3" y="442.88" width="0.8" height="55.22" fill="#e63746"/>
<rect x="334.4" y="442.88" width="4.25" height="55.22" fill="#c35f50"/>
<rect x="338.55" y="449.31" width="0.8" height="48.79" fill="#c35f50"/>
<rect x="338.65" y="449.31" width="4.25" height="48.79" fill="#fac8b4"/>
<rect x="346.45" y="433.25" width="4.25" height="64.86" fill="#415a8c"/>
<rect x="350.6" y="433.25" width="0.8" height="64.86" fill="#415a8c"/>
<rect x="350.7" y="420.75" width="4.25" height="77.35" fill="#e63746"/>
<rect x="354.85" y="451.99" width="0.8" height="46.11" fill="#e63746"/>
<rect x="354.95" y="451.99" width="4.25" height="46.11" fill="#c35f50"/>
<rect x="359.1" y="451.99" width="0.8" height="46.11" fill="#c35f50"/>
<rect x="359.2" y="444.55" width="4.25" height="53.55" fill="#fac8b4"/>
<rect x="367" y="456.69" width="4.25" height="41.41" fill="#415a8c"/>
<rect x="371.15" y="456.69" width="0.8" height="41.41" fill="#415a8c"/>
<rect x="371.25" y="415.99" width="4.25" height="82.11" fill="#e63746"/>
<rect x="375.4" y="464.13" width="0.8" height="33.97" fill="#e63746"/>
<rect x="375.5" y="464.13" width="4.25" height="33.97" fill="#c35f50"/>
<rect x="379.65" y="464.13" width="0.8" height="33.97" fill="#c35f50"/>
<rect x="379.75" y="460.97" width="4.25" height="37.13" fill="#fac8b4"/>
<rect x="387.55" y="479.3" width="4.25" height="18.8" fill="#415a8c"/>
<rect x="391.7" y="479.3" width="0.8" height="18.8" fill="#415a8c"/>
<rect x="391.8" y="477.1" width="4.25" height="21" fill="#e63746"/>
<rect x="395.95" y="479.89" width="0.8" height="18.21" fill="#e63746"/>
<rect x="396.05" y="479.89" width="4.25" height="18.21" fill="#c35f50"/>
<rect x="400.2" y="479.89" width="0.8" height="18.21" fill="#c35f50"/>
<rect x="400.3" y="477.87" width="4.25" height="20.23" fill="#fac8b4"/>
<rect x="408.1" y="488.94" width="4.25" height="9.16" fill="#415a8c"/>
<rect x="412.25" y="488.94" width="0.8" height="9.16" fill="#415a8c"/>
<rect x="412.35" y="482.39" width="4.25" height="15.71" fill="#e63746"/>
<rect x="416.5" y="487.51" width="0.8" height="10.59" fill="#e63746"/>
<rect x="416.6" y="487.51" width="4.25" height="10.59" fill="#c35f50"/>
<rect x="420.75" y="487.51" width="0.8" height="10.59" fill="#c35f50"/>
<rect x="420.85" y="487.51" width="4.25" height="10.59" fill="#fac8b4"/>
<rect x="428.65" y="495.48" width="4.25" height="2.62" fill="#415a8c"/>
<rect x="432.8" y="495.48" width="0.8" height="2.62" fill="#415a8c"/>
<rect x="432.9" y="475.37" width="4.25" height="22.73" fill="#e63746"/>
<rect x="437.05" y="494.53" width="0.8" height="3.57" fill="#e63746"/>
<rect x="437.15" y="494.53" width="4.25" height="3.57" fill="#c35f50"/>
<rect x="441.3" y="494.53" width="0.8" height="3.57" fill="#c35f50"/>
<rect x="441.4" y="493.7" width="4.25" height="4.4" fill="#fac8b4"/>
<rect x="449.2" y="492.92" width="4.25" height="5.18" fill="#415a8c"/>
<rect x="453.35" y="496.02" width="0.8" height="2.08" fill="#415a8c"/>
<rect x="453.45" y="496.02" width="4.25" height="2.08" fill="#e63746"/>
<rect x="457.6" y="496.02" width="0.8" height="2.08" fill="#e63746"/>
<rect x="457.7" y="477.99" width="4.25" height="20.11" fill="#c35f50"/>
<rect x="461.85" y="483.11" width="0.8" height="14.99" fill="#c35f50"/>
<rect x="461.95" y="483.11" width="4.25" height="14.99" fill="#fac8b4"/>
<rect x="469.75" y="488.1" width="4.25" height="10" fill="#415a8c"/>
<rect x="473.9" y="495.72" width="0.8" height="2.38" fill="#415a8c"/>
<rect x="474" y="495.72" width="4.25" height="2.38" fill="#e63746"/>
<rect x="478.15" y="495.72" width="0.8" height="2.38" fill="#e63746"/>
<rect x="478.25" y="482.21" width="4.25" height="15.89" fill="#c35f50"/>
<rect x="482.4" y="484.71" width="0.8" height="13.39" fill="#c35f50"/>
<rect x="482.5" y="484.71" width="4.25" height="13.39" fill="#fac8b4"/>
<rect x="490.3" y="478.82" width="4.25" height="19.28" fill="#415a8c"/>
<rect x="494.45" y="490.72" width="0.8" height="7.38" fill="#415a8c"/>
<rect x="494.55" y="490.72" width="4.25" height="7.38" fill="#e63746"/>
<rect x="498.7" y="490.72" width="0.8" height="7.38" fill="#e63746"/>
<rect x="498.8" y="480.31" width="4.25" height="17.79" fill="#c35f50"/>
<rect x="502.95" y="480.31" width="0.8" height="17.79" fill="#c35f50"/>
<rect x="503.05" y="472.52" width="4.25" height="25.58" fill="#fac8b4"/>
<line x1="286.93" y1="334.24" x2="286.93" y2="342.12" stroke="#111" stroke-width="1"/>
<line x1="285.62" y1="334.24" x2="288.23" y2="334.24" stroke="#111" stroke-width="1.2"/>
<text x="286.93" y="332.5" font-size="5.2" text-anchor="middle" fill="#444" stroke="#444">d</text>
<line x1="291.18" y1="289.91" x2="291.18" y2="296.6" stroke="#111" stroke-width="1"/>
<line x1="289.88" y1="289.91" x2="292.48" y2="289.91" stroke="#111" stroke-width="1.2"/>
<text x="291.18" y="287.6" font-size="5.2" text-anchor="middle" fill="#444" stroke="#444">a</text>
<line x1="295.43" y1="304.73" x2="295.43" y2="313.56" stroke="#111" stroke-width="1"/>
<line x1="294.12" y1="304.73" x2="296.73" y2="304.73" stroke="#111" stroke-width="1.2"/>
<text x="295.43" y="303.4" font-size="5.2" text-anchor="middle" fill="#444" stroke="#444">b</text>
<line x1="299.68" y1="322.75" x2="299.68" y2="327.24" stroke="#111" stroke-width="1"/>
<line x1="298.38" y1="322.75" x2="300.98" y2="322.75" stroke="#111" stroke-width="1.2"/>
<text x="299.68" y="320.2" font-size="5.2" text-anchor="middle" fill="#444" stroke="#444">c</text>
<line x1="307.48" y1="307.34" x2="307.48" y2="322.72" stroke="#111" stroke-width="1"/>
<line x1="306.18" y1="307.34" x2="308.78" y2="307.34" stroke="#111" stroke-width="1.2"/>
<text x="307.48" y="305.1" font-size="5.2" text-anchor="middle" fill="#444" stroke="#444">c</text>
<line x1="311.73" y1="400.4" x2="311.73" y2="403.4" stroke="#111" stroke-width="1"/>
<line x1="310.43" y1="400.4" x2="313.03" y2="400.4" stroke="#111" stroke-width="1.2"/>
<text x="311.73" y="396.5" font-size="5.2" text-anchor="middle" fill="#444" stroke="#444">d</text>
<line x1="315.98" y1="307.28" x2="315.98" y2="314.15" stroke="#111" stroke-width="1"/>
<line x1="314.68" y1="307.28" x2="317.28" y2="307.28" stroke="#111" stroke-width="1.2"/>
<text x="315.98" y="305.7" font-size="5.2" text-anchor="middle" fill="#444" stroke="#444">b</text>
<line x1="320.23" y1="299.67" x2="320.23" y2="307.31" stroke="#111" stroke-width="1"/>
<line x1="318.93" y1="299.67" x2="321.53" y2="299.67" stroke="#111" stroke-width="1.2"/>
<text x="320.23" y="296.4" font-size="5.2" text-anchor="middle" fill="#444" stroke="#444">a</text>
<line x1="328.03" y1="389.81" x2="328.03" y2="409.35" stroke="#111" stroke-width="1"/>
<line x1="326.73" y1="389.81" x2="329.33" y2="389.81" stroke="#111" stroke-width="1.2"/>
<text x="328.03" y="387.5" font-size="5.2" text-anchor="middle" fill="#444" stroke="#444">a</text>
<line x1="332.28" y1="427.41" x2="332.28" y2="434.94" stroke="#111" stroke-width="1"/>
<line x1="330.98" y1="427.41" x2="333.58" y2="427.41" stroke="#111" stroke-width="1.2"/>
<text x="332.28" y="424.8" font-size="5.2" text-anchor="middle" fill="#444" stroke="#444">b</text>
<line x1="336.53" y1="436.58" x2="336.53" y2="443.38" stroke="#111" stroke-width="1"/>
<line x1="335.23" y1="436.58" x2="337.83" y2="436.58" stroke="#111" stroke-width="1.2"/>
<text x="336.53" y="433.1" font-size="5.2" text-anchor="middle" fill="#444" stroke="#444">c</text>
<line x1="340.78" y1="443.72" x2="340.78" y2="449.81" stroke="#111" stroke-width="1"/>
<line x1="339.48" y1="443.72" x2="342.08" y2="443.72" stroke="#111" stroke-width="1.2"/>
<text x="340.78" y="440.9" font-size="5.2" text-anchor="middle" fill="#444" stroke="#444">d</text>
<line x1="348.58" y1="430.63" x2="348.58" y2="433.75" stroke="#111" stroke-width="1"/>
<line x1="347.28" y1="430.63" x2="349.88" y2="430.63" stroke="#111" stroke-width="1.2"/>
<text x="348.58" y="428.1" font-size="5.2" text-anchor="middle" fill="#444" stroke="#444">b</text>
<line x1="352.83" y1="410.28" x2="352.83" y2="421.25" stroke="#111" stroke-width="1"/>
<line x1="351.53" y1="410.28" x2="354.13" y2="410.28" stroke="#111" stroke-width="1.2"/>
<text x="352.83" y="407.6" font-size="5.2" text-anchor="middle" fill="#444" stroke="#444">a</text>
<line x1="357.08" y1="447.58" x2="357.08" y2="452.49" stroke="#111" stroke-width="1"/>
<line x1="355.78" y1="447.58" x2="358.38" y2="447.58" stroke="#111" stroke-width="1.2"/>
<text x="357.08" y="444.8" font-size="5.2" text-anchor="middle" fill="#444" stroke="#444">d</text>
<line x1="361.33" y1="441.34" x2="361.33" y2="445.05" stroke="#111" stroke-width="1"/>
<line x1="360.03" y1="441.34" x2="362.63" y2="441.34" stroke="#111" stroke-width="1.2"/>
<text x="361.33" y="438.6" font-size="5.2" text-anchor="middle" fill="#444" stroke="#444">c</text>
<line x1="369.12" y1="452.29" x2="369.12" y2="457.19" stroke="#111" stroke-width="1"/>
<line x1="367.82" y1="452.29" x2="370.43" y2="452.29" stroke="#111" stroke-width="1.2"/>
<text x="369.12" y="449.9" font-size="5.2" text-anchor="middle" fill="#444" stroke="#444">b</text>
<line x1="373.38" y1="411.59" x2="373.38" y2="416.49" stroke="#111" stroke-width="1"/>
<line x1="372.07" y1="411.59" x2="374.68" y2="411.59" stroke="#111" stroke-width="1.2"/>
<text x="373.38" y="408.7" font-size="5.2" text-anchor="middle" fill="#444" stroke="#444">a</text>
<line x1="377.62" y1="461.21" x2="377.62" y2="464.63" stroke="#111" stroke-width="1"/>
<line x1="376.32" y1="461.21" x2="378.93" y2="461.21" stroke="#111" stroke-width="1.2"/>
<text x="377.62" y="459" font-size="5.2" text-anchor="middle" fill="#444" stroke="#444">d</text>
<line x1="381.88" y1="455.2" x2="381.88" y2="461.47" stroke="#111" stroke-width="1"/>
<line x1="380.57" y1="455.2" x2="383.18" y2="455.2" stroke="#111" stroke-width="1.2"/>
<text x="381.88" y="452.6" font-size="5.2" text-anchor="middle" fill="#444" stroke="#444">c</text>
<line x1="389.68" y1="474.42" x2="389.68" y2="479.8" stroke="#111" stroke-width="1"/>
<line x1="388.38" y1="474.42" x2="390.98" y2="474.42" stroke="#111" stroke-width="1.2"/>
<text x="389.68" y="472.3" font-size="5.2" text-anchor="middle" fill="#444" stroke="#444">b</text>
<line x1="393.93" y1="473.17" x2="393.93" y2="477.6" stroke="#111" stroke-width="1"/>
<line x1="392.62" y1="473.17" x2="395.23" y2="473.17" stroke="#111" stroke-width="1.2"/>
<text x="393.93" y="471.2" font-size="5.2" text-anchor="middle" fill="#444" stroke="#444">a</text>
<line x1="398.18" y1="477.57" x2="398.18" y2="480.39" stroke="#111" stroke-width="1"/>
<line x1="396.88" y1="477.57" x2="399.48" y2="477.57" stroke="#111" stroke-width="1.2"/>
<text x="398.18" y="475.6" font-size="5.2" text-anchor="middle" fill="#444" stroke="#444">c</text>
<line x1="402.43" y1="474.06" x2="402.43" y2="478.37" stroke="#111" stroke-width="1"/>
<line x1="401.12" y1="474.06" x2="403.73" y2="474.06" stroke="#111" stroke-width="1.2"/>
<text x="402.43" y="472.3" font-size="5.2" text-anchor="middle" fill="#444" stroke="#444">b</text>
<line x1="410.23" y1="487.45" x2="410.23" y2="489.44" stroke="#111" stroke-width="1"/>
<line x1="408.93" y1="487.45" x2="411.53" y2="487.45" stroke="#111" stroke-width="1.2"/>
<text x="410.23" y="484.4" font-size="5.2" text-anchor="middle" fill="#444" stroke="#444">c</text>
<line x1="414.48" y1="479.71" x2="414.48" y2="482.89" stroke="#111" stroke-width="1"/>
<line x1="413.18" y1="479.71" x2="415.78" y2="479.71" stroke="#111" stroke-width="1.2"/>
<text x="414.48" y="476.2" font-size="5.2" text-anchor="middle" fill="#444" stroke="#444">a</text>
<line x1="418.73" y1="486.08" x2="418.73" y2="488.01" stroke="#111" stroke-width="1"/>
<line x1="417.43" y1="486.08" x2="420.03" y2="486.08" stroke="#111" stroke-width="1.2"/>
<text x="418.73" y="484.4" font-size="5.2" text-anchor="middle" fill="#444" stroke="#444">b</text>
<line x1="422.98" y1="486.08" x2="422.98" y2="488.01" stroke="#111" stroke-width="1"/>
<line x1="421.68" y1="486.08" x2="424.28" y2="486.08" stroke="#111" stroke-width="1.2"/>
<text x="422.98" y="483.8" font-size="5.2" text-anchor="middle" fill="#444" stroke="#444">b</text>
<line x1="430.77" y1="494.29" x2="430.77" y2="495.98" stroke="#111" stroke-width="1"/>
<line x1="429.47" y1="494.29" x2="432.07" y2="494.29" stroke="#111" stroke-width="1.2"/>
<text x="430.77" y="492" font-size="5.2" text-anchor="middle" fill="#444" stroke="#444">d</text>
<line x1="435.02" y1="473.05" x2="435.02" y2="475.87" stroke="#111" stroke-width="1"/>
<line x1="433.72" y1="473.05" x2="436.32" y2="473.05" stroke="#111" stroke-width="1.2"/>
<text x="435.02" y="469.8" font-size="5.2" text-anchor="middle" fill="#444" stroke="#444">a</text>
<line x1="439.27" y1="493.46" x2="439.27" y2="495.03" stroke="#111" stroke-width="1"/>
<line x1="437.97" y1="493.46" x2="440.57" y2="493.46" stroke="#111" stroke-width="1.2"/>
<text x="439.27" y="490.8" font-size="5.2" text-anchor="middle" fill="#444" stroke="#444">c</text>
<line x1="443.52" y1="491.67" x2="443.52" y2="494.2" stroke="#111" stroke-width="1"/>
<line x1="442.22" y1="491.67" x2="444.82" y2="491.67" stroke="#111" stroke-width="1.2"/>
<text x="443.52" y="489.7" font-size="5.2" text-anchor="middle" fill="#444" stroke="#444">b</text>
<line x1="451.33" y1="491.44" x2="451.33" y2="493.42" stroke="#111" stroke-width="1"/>
<line x1="450.03" y1="491.44" x2="452.63" y2="491.44" stroke="#111" stroke-width="1.2"/>
<text x="451.33" y="488.7" font-size="5.2" text-anchor="middle" fill="#444" stroke="#444">c</text>
<text x="455.58" y="492.6" font-size="5.2" text-anchor="middle" fill="#444" stroke="#444">d</text>
<line x1="459.83" y1="476.56" x2="459.83" y2="478.49" stroke="#111" stroke-width="1"/>
<line x1="458.53" y1="476.56" x2="461.13" y2="476.56" stroke="#111" stroke-width="1.2"/>
<text x="459.83" y="473.6" font-size="5.2" text-anchor="middle" fill="#444" stroke="#444">a</text>
<line x1="464.08" y1="479.71" x2="464.08" y2="483.61" stroke="#111" stroke-width="1"/>
<line x1="462.78" y1="479.71" x2="465.38" y2="479.71" stroke="#111" stroke-width="1.2"/>
<text x="464.08" y="477.1" font-size="5.2" text-anchor="middle" fill="#444" stroke="#444">b</text>
<line x1="471.88" y1="485.61" x2="471.88" y2="488.6" stroke="#111" stroke-width="1"/>
<line x1="470.57" y1="485.61" x2="473.18" y2="485.61" stroke="#111" stroke-width="1.2"/>
<text x="471.88" y="483.4" font-size="5.2" text-anchor="middle" fill="#444" stroke="#444">c</text>
<line x1="476.12" y1="494.23" x2="476.12" y2="496.22" stroke="#111" stroke-width="1"/>
<line x1="474.82" y1="494.23" x2="477.43" y2="494.23" stroke="#111" stroke-width="1.2"/>
<text x="476.12" y="492.2" font-size="5.2" text-anchor="middle" fill="#444" stroke="#444">d</text>
<line x1="480.38" y1="479.71" x2="480.38" y2="482.71" stroke="#111" stroke-width="1"/>
<line x1="479.07" y1="479.71" x2="481.68" y2="479.71" stroke="#111" stroke-width="1.2"/>
<text x="480.38" y="476.5" font-size="5.2" text-anchor="middle" fill="#444" stroke="#444">a</text>
<line x1="484.62" y1="482.63" x2="484.62" y2="485.21" stroke="#111" stroke-width="1"/>
<line x1="483.32" y1="482.63" x2="485.93" y2="482.63" stroke="#111" stroke-width="1.2"/>
<text x="484.62" y="481.1" font-size="5.2" text-anchor="middle" fill="#444" stroke="#444">b</text>
<line x1="492.43" y1="478.05" x2="492.43" y2="479.32" stroke="#111" stroke-width="1"/>
<line x1="491.12" y1="478.05" x2="493.73" y2="478.05" stroke="#111" stroke-width="1.2"/>
<text x="492.43" y="475.8" font-size="5.2" text-anchor="middle" fill="#444" stroke="#444">b</text>
<line x1="496.68" y1="490.01" x2="496.68" y2="491.22" stroke="#111" stroke-width="1"/>
<line x1="495.38" y1="490.01" x2="497.98" y2="490.01" stroke="#111" stroke-width="1.2"/>
<text x="496.68" y="487.2" font-size="5.2" text-anchor="middle" fill="#444" stroke="#444">c</text>
<line x1="500.93" y1="478.82" x2="500.93" y2="480.81" stroke="#111" stroke-width="1"/>
<line x1="499.62" y1="478.82" x2="502.23" y2="478.82" stroke="#111" stroke-width="1.2"/>
<text x="500.93" y="475.8" font-size="5.2" text-anchor="middle" fill="#444" stroke="#444">b</text>
<line x1="505.18" y1="467.04" x2="505.18" y2="473.02" stroke="#111" stroke-width="1"/>
<line x1="503.88" y1="467.04" x2="506.48" y2="467.04" stroke="#111" stroke-width="1.2"/>
<text x="505.18" y="463.8" font-size="5.2" text-anchor="middle" fill="#444" stroke="#444">a</text>
<rect x="280.7" y="260.4" width="230.2" height="237.7" fill="none" stroke="#858585" stroke-width="1"/>
<line x1="278.2" y1="498.1" x2="280.7" y2="498.1" stroke="#555555" stroke-width="1"/>
<text x="273" y="500.8" font-size="8.8" text-anchor="middle" fill="#1a1a1a" stroke="#1a1a1a">0</text>
<line x1="278.2" y1="438.6" x2="280.7" y2="438.6" stroke="#555555" stroke-width="1"/>
<text x="273" y="441.3" font-size="8.8" text-anchor="middle" fill="#1a1a1a" stroke="#1a1a1a">10</text>
<line x1="278.2" y1="379.1" x2="280.7" y2="379.1" stroke="#555555" stroke-width="1"/>
<text x="273" y="381.8" font-size="8.8" text-anchor="middle" fill="#1a1a1a" stroke="#1a1a1a">20</text>
<line x1="278.2" y1="319.6" x2="280.7" y2="319.6" stroke="#555555" stroke-width="1"/>
<text x="273" y="322.3" font-size="8.8" text-anchor="middle" fill="#1a1a1a" stroke="#1a1a1a">30</text>
<line x1="278.2" y1="260.1" x2="280.7" y2="260.1" stroke="#555555" stroke-width="1"/>
<text x="273" y="262.8" font-size="8.8" text-anchor="middle" fill="#1a1a1a" stroke="#1a1a1a">40</text>
<line x1="293.3" y1="498.1" x2="293.3" y2="500.3" stroke="#555555" stroke-width="1"/>
<text x="0" y="0" font-size="8.75" text-anchor="start" fill="#1a1a1a" stroke="#1a1a1a" stroke-width="0.1" transform="translate(257.4,535.4) rotate(-35)">Proteobacteria</text>
<line x1="313.85" y1="498.1" x2="313.85" y2="500.3" stroke="#555555" stroke-width="1"/>
<text x="0" y="0" font-size="8.75" text-anchor="start" fill="#1a1a1a" stroke="#1a1a1a" stroke-width="0.1" transform="translate(279.6,534.9) rotate(-35)">Acidobacteria</text>
<line x1="334.4" y1="498.1" x2="334.4" y2="500.3" stroke="#555555" stroke-width="1"/>
<text x="0" y="0" font-size="8.75" text-anchor="start" fill="#1a1a1a" stroke="#1a1a1a" stroke-width="0.1" transform="translate(305.6,530.8) rotate(-35)">Chloroflexi</text>
<line x1="354.95" y1="498.1" x2="354.95" y2="500.3" stroke="#555555" stroke-width="1"/>
<text x="0" y="0" font-size="8.75" text-anchor="start" fill="#1a1a1a" stroke="#1a1a1a" stroke-width="0.1" transform="translate(319.9,535.4) rotate(-35)">Actinobacteria</text>
<line x1="375.5" y1="498.1" x2="375.5" y2="500.3" stroke="#555555" stroke-width="1"/>
<text x="0" y="0" font-size="8.75" text-anchor="start" fill="#1a1a1a" stroke="#1a1a1a" stroke-width="0.1" transform="translate(336.8,537.2) rotate(-35)">Planctomycetes</text>
<line x1="396.05" y1="498.1" x2="396.05" y2="500.3" stroke="#555555" stroke-width="1"/>
<text x="0" y="0" font-size="8.75" text-anchor="start" fill="#1a1a1a" stroke="#1a1a1a" stroke-width="0.1" transform="translate(354.5,540.6) rotate(-35)">Verrucomicrobia</text>
<line x1="416.6" y1="498.1" x2="416.6" y2="500.3" stroke="#555555" stroke-width="1"/>
<text x="0" y="0" font-size="8.75" text-anchor="start" fill="#1a1a1a" stroke="#1a1a1a" stroke-width="0.1" transform="translate(381.9,535.4) rotate(-35)">Bacteroidetes</text>
<line x1="437.15" y1="498.1" x2="437.15" y2="500.3" stroke="#555555" stroke-width="1"/>
<text x="0" y="0" font-size="8.75" text-anchor="start" fill="#1a1a1a" stroke="#1a1a1a" stroke-width="0.1" transform="translate(384.5,548.3) rotate(-35)">Gemmatimonadetes</text>
<line x1="457.7" y1="498.1" x2="457.7" y2="500.3" stroke="#555555" stroke-width="1"/>
<text x="0" y="0" font-size="8.75" text-anchor="start" fill="#1a1a1a" stroke="#1a1a1a" stroke-width="0.1" transform="translate(426.6,531.8) rotate(-35)">Chlamydiae</text>
<line x1="478.25" y1="498.1" x2="478.25" y2="500.3" stroke="#555555" stroke-width="1"/>
<text x="0" y="0" font-size="8.75" text-anchor="start" fill="#1a1a1a" stroke="#1a1a1a" stroke-width="0.1" transform="translate(453.8,531.3) rotate(-35)">Firmicutes</text>
<line x1="498.8" y1="498.1" x2="498.8" y2="500.3" stroke="#555555" stroke-width="1"/>
<text x="0" y="0" font-size="8.75" text-anchor="start" fill="#1a1a1a" stroke="#1a1a1a" stroke-width="0.1" transform="translate(485.7,527.2) rotate(-35)">Others</text>
<text x="357.2" y="276" font-size="10.7" text-anchor="start" fill="#1a1a1a" stroke="#1a1a1a">Rare</text>
<rect x="464.3" y="279.8" width="9.9" height="9.8" fill="#415a8c"/>
<text x="480.3" y="287.9" font-size="9" text-anchor="start" fill="#1a1a1a" stroke="#1a1a1a">13-yr</text>
<rect x="464.3" y="293.05" width="9.9" height="9.8" fill="#e63746"/>
<text x="480.3" y="301.15" font-size="9" text-anchor="start" fill="#1a1a1a" stroke="#1a1a1a">25-yr</text>
<rect x="464.3" y="306.3" width="9.9" height="9.8" fill="#c35f50"/>
<text x="480.3" y="314.4" font-size="9" text-anchor="start" fill="#1a1a1a" stroke="#1a1a1a">38-yr</text>
<rect x="464.3" y="319.55" width="9.9" height="9.8" fill="#fac8b4"/>
<text x="480.3" y="327.65" font-size="9" text-anchor="start" fill="#1a1a1a" stroke="#1a1a1a">58-yr</text>
<text x="321.5" y="247" font-size="19.3" text-anchor="middle" fill="#1a1a1a" stroke="#1a1a1a">D</text>
</svg></body></html>
